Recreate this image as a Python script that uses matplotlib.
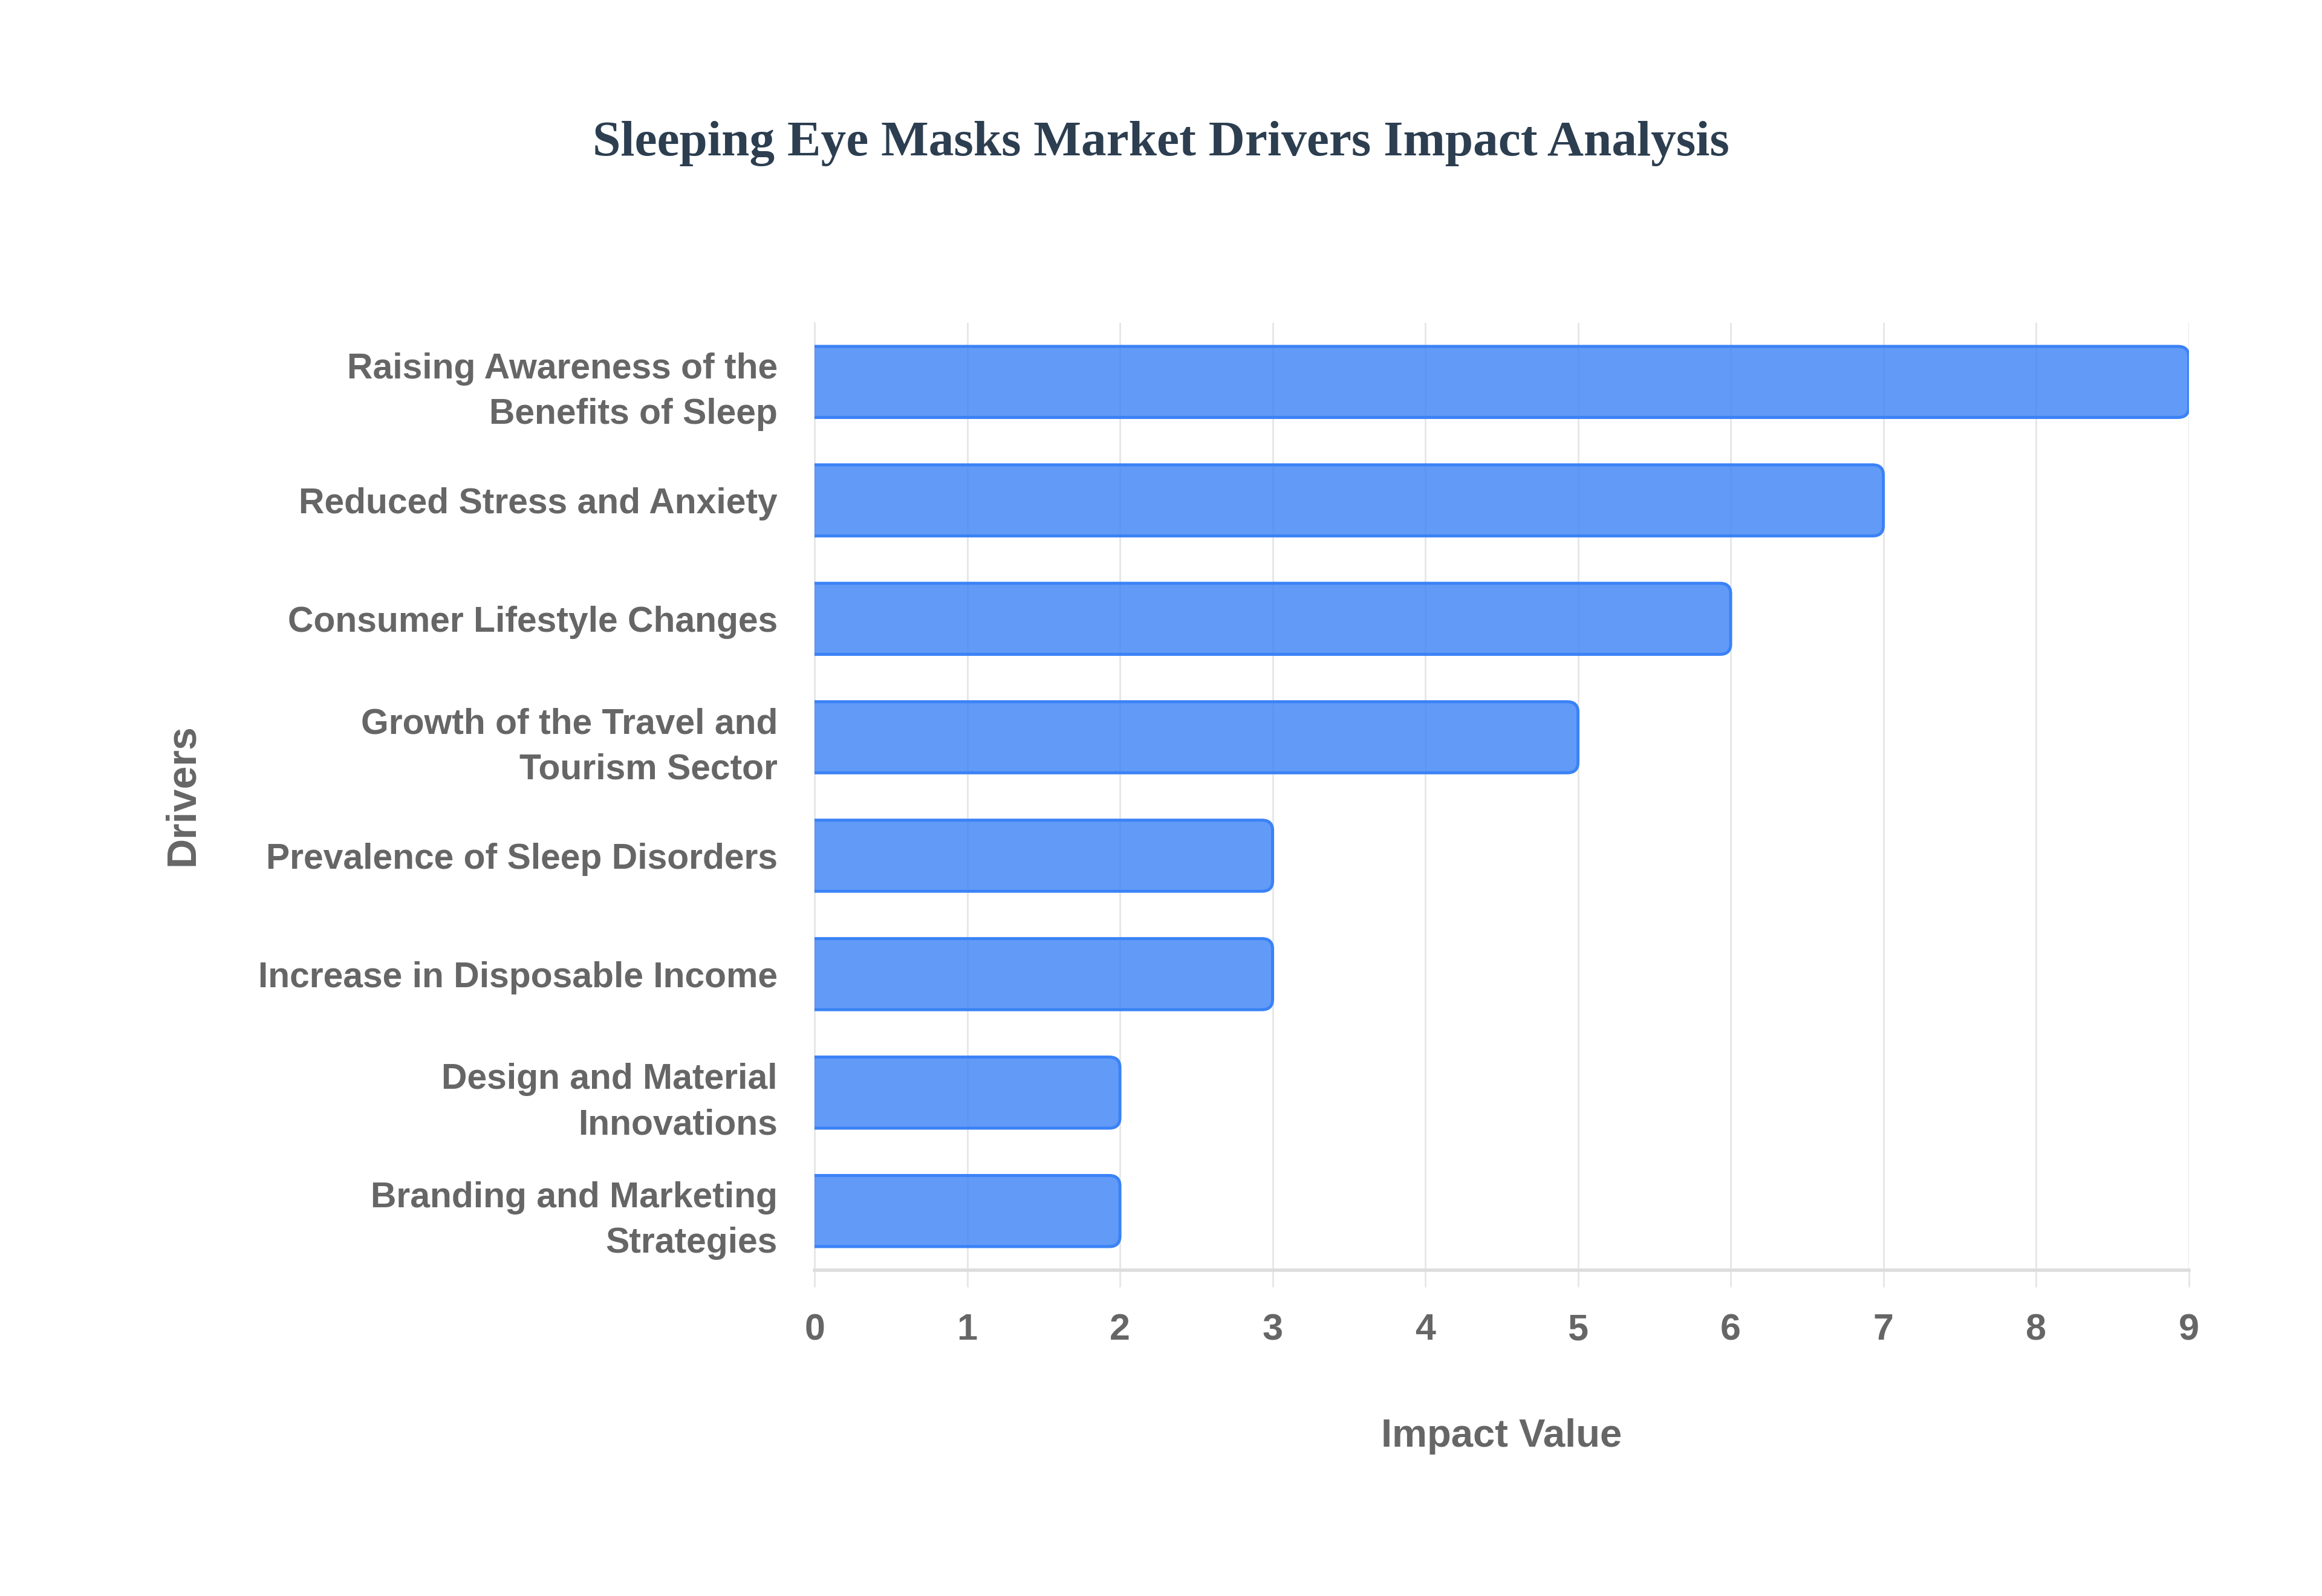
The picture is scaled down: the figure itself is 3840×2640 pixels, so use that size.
import matplotlib
matplotlib.use('Agg')
import matplotlib.pyplot as plt
from matplotlib.patches import FancyBboxPatch

# Chart data (top to bottom as in the chart)
drivers = [
    'Raising Awareness of the\nBenefits of Sleep',
    'Reduced Stress and Anxiety',
    'Consumer Lifestyle Changes',
    'Growth of the Travel and\nTourism Sector',
    'Prevalence of Sleep Disorders',
    'Increase in Disposable Income',
    'Design and Material\nInnovations',
    'Branding and Marketing\nStrategies',
]
impact = [9, 7, 6, 5, 3, 3, 2, 2]
x_ticks = [0, 1, 2, 3, 4, 5, 6, 7, 8, 9]

label_gray = '#666666'
grid_gray = '#e6e6e6'
fill = (59 / 255, 130 / 255, 246 / 255, 0.8)
edge = '#3b82f6'

fig = plt.figure(figsize=(19.2, 13.2), dpi=200)
ax = fig.add_axes([0.3508, 0.2041, 0.5918, 0.5937])

bar_h = 0.6
for i, (name, val) in enumerate(zip(drivers, impact)):
    # extend left past zero so the clipped left end stays square
    patch = FancyBboxPatch((-0.2, i - bar_h / 2), val + 0.2, bar_h,
                           boxstyle='round,pad=0,rounding_size=0.07',
                           mutation_aspect=1.25,
                           facecolor=fill, edgecolor=edge, linewidth=1.8,
                           zorder=3)
    patch.set_clip_path(ax.patch)
    ax.add_patch(patch)

ax.set_xlim(0, 9)
ax.set_ylim(len(drivers) - 0.5, -0.5)
ax.set_yticks(range(len(drivers)))
ax.set_yticklabels(drivers, fontsize=21.2, fontweight='bold', color=label_gray,
                   family='Liberation Sans', linespacing=1.47)
ax.set_xticks(x_ticks)
ax.set_xticklabels([str(t) for t in x_ticks], fontsize=22, fontweight='bold',
                   color=label_gray, family='Liberation Sans')

ax.tick_params(axis='y', length=0, pad=22)
ax.tick_params(axis='x', length=10, width=1.0, color=grid_gray, pad=15.5)
ax.grid(axis='x', color=grid_gray, linewidth=1.0, zorder=0)
ax.set_axisbelow(True)

for side in ['top', 'right']:
    ax.spines[side].set_visible(False)
ax.spines['left'].set_color(grid_gray)
ax.spines['left'].set_linewidth(1.0)
ax.spines['bottom'].set_color('#dddddd')
ax.spines['bottom'].set_linewidth(2.0)

fig.text(0.0786, 0.502, 'Drivers', rotation=90, ha='center', va='center',
         fontsize=24.5, fontweight='bold', color=label_gray, family='Liberation Sans')
fig.text(0.6467, 0.1, 'Impact Value', ha='center', va='center',
         fontsize=23.5, fontweight='bold', color=label_gray, family='Liberation Sans')
fig.text(0.5, 0.91, 'Sleeping Eye Masks Market Drivers Impact Analysis',
         ha='center', va='center', fontsize=30, fontweight='bold',
         color='#2c3e50', family='Liberation Serif')

plt.savefig('out.png', dpi=200, facecolor='white')
